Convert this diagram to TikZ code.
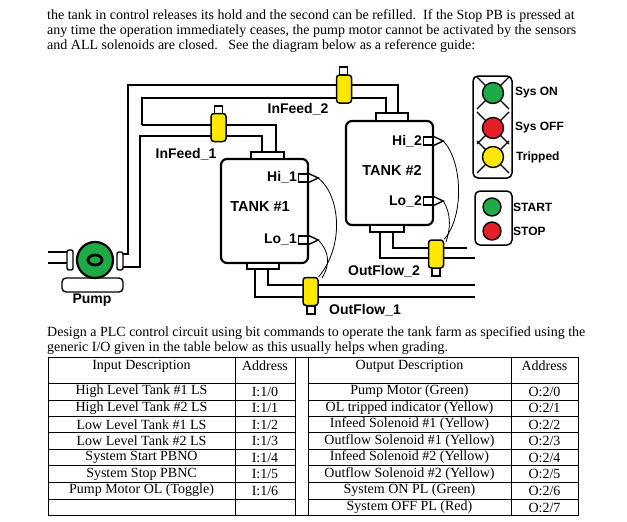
\documentclass[tikz,border=0pt]{standalone}
\usepackage{fontspec}
\setmainfont{Liberation Serif}
\newfontfamily\lbl{Liberation Sans}
\begin{document}
\begin{tikzpicture}[x=1pt,y=-1pt,
  pipe/.style={line width=2.2pt},
  tank/.style={draw,line width=2.2pt,rounded corners=6pt,fill=white,inner sep=0},
  tcap/.style={draw,line width=1.8pt,fill=white,inner sep=0},
  valve/.style={draw,line width=1.5pt,fill=vy,rounded corners=3pt,inner sep=0,minimum width=15pt,minimum height=28pt},
  stem/.style={draw,line width=1.4pt,fill=white,inner sep=0,minimum width=8pt,minimum height=8pt},
  sq/.style={draw,line width=1.4pt,fill=white,inner sep=0,minimum width=9pt,minimum height=8pt},
  lb/.style={font=\lbl\bfseries\fontsize{14}{15}\selectfont,inner sep=0},
  sm/.style={font=\lbl\bfseries\fontsize{12}{13}\selectfont,inner sep=0,anchor=west},
  body/.style={font=\fontsize{14}{16}\selectfont,anchor=west,inner sep=0},
  cell/.style={font=\fontsize{14}{16}\selectfont,inner sep=0},
  lamp/.style={circle,draw,line width=1.4pt,inner sep=0,minimum size=21pt},
  pb/.style={circle,draw,line width=1.4pt,inner sep=0,minimum size=18pt},
  wire/.style={line width=0.8pt}]
\definecolor{vy}{RGB}{255,232,0}
\definecolor{vg}{RGB}{30,170,70}
\definecolor{vr}{RGB}{230,30,40}
\useasboundingbox (0,0) rectangle (627,522);
% text
\node[body] (t1) at (47,16) {the tank in control releases its hold and the second can be refilled.\ \ If the Stop PB is pressed at};
\node[body] (t2) at (47,31) {any time the operation immediately ceases, the pump motor cannot be activated by the sensors};
\node[body] (t3) at (47,46) {and ALL solenoids are closed.\ \ \ See the diagram below as a reference guide:};
\node[body] (t4) at (47,333) {Design a PLC control circuit using bit commands to operate the tank farm as specified using the};
\node[body] (t5) at (47,348) {generic I/O given in the table below as this usually helps when grading.};
% pipes
\draw[pipe] (123,254) -- (128,254) -- (128,85) -- (398,85) -- (398,113);
\draw[pipe] (142,125) -- (142,98) -- (386,98) -- (386,113);
\draw[pipe] (123,267) -- (140,267) -- (140,136) -- (262,136) -- (262,152);
\draw[pipe] (142,125) -- (276,125) -- (276,152);
\draw[pipe] (268,269) -- (268,285) -- (475,285);
\draw[pipe] (255,269) -- (255,297) -- (475,297);
\draw[pipe] (393,232) -- (393,248) -- (467,248);
\draw[pipe] (380,232) -- (380,258) -- (475,258);
\draw[pipe] (48,252) -- (67,252);
\draw[pipe] (48,263) -- (67,263);
% tanks
\node[tank,minimum width=87pt,minimum height=104pt] (tk1) at (264.5,211) {};
\node[tcap,minimum width=33pt,minimum height=7pt] (c1t) at (267.5,155.5) {};
\node[tcap,minimum width=32pt,minimum height=6pt] (c1b) at (263,266) {};
\node[font=\lbl\bfseries\fontsize{14.5}{15}\selectfont] (n1) at (260,207) {TANK \#1};
\node[tank,minimum width=87pt,minimum height=104pt] (tk2) at (389.5,173) {};
\node[tcap,minimum width=32pt,minimum height=8pt] (c2t) at (392,117) {};
\node[tcap,minimum width=34pt,minimum height=7pt] (c2b) at (387,228.5) {};
\node[font=\lbl\bfseries\fontsize{14.5}{15}\selectfont] (n2) at (392,170) {TANK \#2};
% sensors
\node[sq] (h1) at (303,178) {};
\node[sq] (l1) at (303,240) {};
\node[sq] (h2) at (428,141) {};
\node[sq] (l2) at (428,201) {};
\foreach \s in {h1,l1,h2,l2}{\draw[line width=1.4pt,fill=white] (\s.north east) -- ([xshift=10pt]\s.east) -- (\s.south east) -- cycle;}
\node[lb,anchor=east] (hl1) at (297,177) {Hi\_1};
\node[lb,anchor=east] (ll1) at (297,240) {Lo\_1};
\node[lb,anchor=east] (hl2) at (422,141) {Hi\_2};
\node[lb,anchor=east] (ll2) at (422,201) {Lo\_2};
% valves
\node[stem] (s1) at (218.5,110) {};
\node[valve] (v1) at (218.5,127.5) {};
\node[stem] (s2) at (343.5,71) {};
\node[valve] (v2) at (344,89) {};
\node[stem] (s3) at (311,310) {};
\node[valve] (v3) at (310.5,291.5) {};
\node[stem] (s4) at (436,272) {};
\node[valve] (v4) at (436,254) {};
\node[lb] (lv1) at (186,154) {InFeed\_1};
\node[lb] (lv2) at (298,109) {InFeed\_2};
\node[lb] (lv3) at (365,310) {OutFlow\_1};
\node[lb] (lv4) at (384,271) {OutFlow\_2};
% wires
\draw[wire] ([xshift=10pt]h1.east) .. controls (340,195) and (345,245) .. (v3.north east);
\draw[wire] ([xshift=10pt]l1.east) .. controls (330,252) and (330,265) .. (322,278);
\draw[wire] ([xshift=10pt]h2.east) .. controls (462,160) and (465,215) .. (v4.north east);
\draw[wire] ([xshift=10pt]l2.east) .. controls (452,215) and (450,230) .. (446,242);
% pump
\node[draw,line width=1.4pt,fill=white,rounded corners=4pt,minimum width=61pt,minimum height=14pt,inner sep=0] (pbase) at (92.5,285) {};
\node[draw,line width=1.4pt,fill=white,rounded corners=2pt,minimum width=6pt,minimum height=20pt,inner sep=0] (pf1) at (70,260) {};
\node[draw,line width=1.4pt,fill=white,rounded corners=2pt,minimum width=6pt,minimum height=18pt,inner sep=0] (pf2) at (120,261) {};
\node[circle,draw,line width=2.2pt,fill=vg,minimum size=36pt,inner sep=0] (pc) at (95,260) {};
\draw[line width=2.8pt] (pc.center) ellipse (7pt and 5pt);
\node[lb] (pl) at (92,300) {Pump};
% lights
\node[draw,line width=1.5pt,rounded corners=5pt,minimum width=39pt,minimum height=102pt,inner sep=0] (pan1) at (492.5,127) {};
\node[draw,line width=1.5pt,rounded corners=5pt,minimum width=37pt,minimum height=54pt,inner sep=0] (pan2) at (493.5,218) {};
\foreach \n/\y/\c in {la/93/vg,lbb/128/vr,lc/157/vy}{
  \draw[line width=1.1pt] (493-16,\y-16) -- (493+16,\y+16) (493-16,\y+16) -- (493+16,\y-16);
  \node[lamp,fill=\c] (\n) at (493,\y) {};}
\node[pb,fill=vg] (ps) at (492,207) {};
\node[pb,fill=vr] (pp) at (492,231) {};
\node[sm] (ta) at (515,93) {Sys ON};
\node[sm] (tb) at (515,128) {Sys OFF};
\node[sm] (tc) at (516,157) {Tripped};
\node[sm] (td) at (513,207) {START};
\node[sm] (te) at (513,231) {STOP};
% table
\draw[line width=0.8pt] (48,357) rectangle (295,515);
\draw[line width=0.8pt] (308,357) rectangle (578,515);
\draw[line width=0.8pt] (235,357) -- (235,515) (511,357) -- (511,515) (295,357) -- (308,357) (295,515) -- (308,515);
\foreach \y in {383,400,416,432.5,449,465.5,482,499}{\draw[line width=0.8pt] (48,\y) -- (295,\y) (308,\y) -- (578,\y);}
\node[cell] (h1c) at (141.5,366) {Input Description};
\node[cell] (h2c) at (265,366) {Address};
\node[cell] (h3c) at (409.5,366) {Output Description};
\node[cell] (h4c) at (544.5,366) {Address};
\foreach \i/\a/\b/\c/\d in {0/High Level Tank \#1 LS/I:1\slash 0/Pump Motor (Green)/O:2\slash 0,
 1/High Level Tank \#2 LS/I:1\slash 1/OL tripped indicator (Yellow)/O:2\slash 1,
 2/Low Level Tank \#1 LS/I:1\slash 2/Infeed Solenoid \#1 (Yellow)/O:2\slash 2,
 3/Low Level Tank \#2 LS/I:1\slash 3/Outflow Solenoid \#1 (Yellow)/O:2\slash 3,
 4/System Start PBNO/I:1\slash 4/Infeed Solenoid \#2 (Yellow)/O:2\slash 4,
 5/System Stop PBNC/I:1\slash 5/Outflow Solenoid \#2 (Yellow)/O:2\slash 5,
 6/Pump Motor OL (Toggle)/I:1\slash 6/System ON PL (Green)/O:2\slash 6}{
 \node[cell] (ra\i) at (141.5,391.5+16.5*\i) {\a};
 \node[cell] (rb\i) at (265,391.5+16.5*\i) {\b};
 \node[cell] (rc\i) at (409.5,391.5+16.5*\i) {\c};
 \node[cell] (rd\i) at (544.5,391.5+16.5*\i) {\d};}
\node[cell] (rc7) at (409.5,507.5) {System OFF PL (Red)};
\node[cell] (rd7) at (544.5,507.5) {O:2/7};
\end{tikzpicture}
\end{document}
